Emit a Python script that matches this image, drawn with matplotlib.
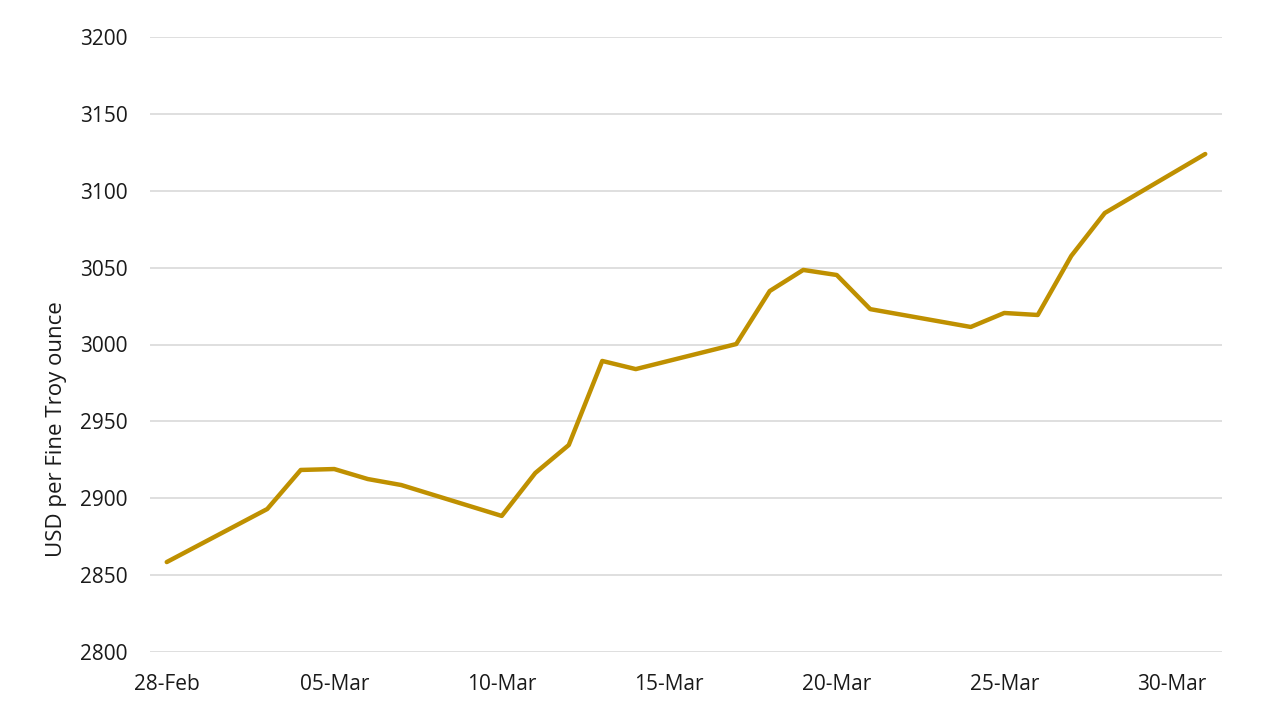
import matplotlib
matplotlib.use("Agg")
import matplotlib.pyplot as plt
import matplotlib.dates as mdates
import numpy as np
import datetime as dt

dates = ["2025-02-28", "2025-03-03", "2025-03-04", "2025-03-05", "2025-03-06", "2025-03-07",
         "2025-03-10", "2025-03-11", "2025-03-12", "2025-03-13", "2025-03-14",
         "2025-03-17", "2025-03-18", "2025-03-19", "2025-03-20", "2025-03-21",
         "2025-03-24", "2025-03-25", "2025-03-26", "2025-03-27", "2025-03-28",
         "2025-03-31"]
prices = [2858.5, 2893, 2918.4, 2919, 2912.5, 2908.6,
          2888.5, 2916.4, 2934.6, 2989.3, 2984,
          3000.3, 3034.8, 3048.5, 3045.2, 3023,
          3011.4, 3020.5, 3019.2, 3057.6, 3085.5,
          3123.9]
tick_dates = ["2025-02-28", "2025-03-05", "2025-03-10", "2025-03-15", "2025-03-20",
              "2025-03-25", "2025-03-30"]
y_ticks = [2800, 2850, 2900, 2950, 3000, 3050, 3100, 3150, 3200]

plt.rcParams['font.family'] = ['Open Sans', 'DejaVu Sans']

x = [dt.datetime.strptime(d, "%Y-%m-%d") for d in dates]
xt = [dt.datetime.strptime(d, "%Y-%m-%d") for d in tick_dates]

fig = plt.figure(figsize=(12.8, 7.2), dpi=100)
ax = fig.add_axes([150/1280, 1-652/720, (1222-150)/1280, (652-37)/720])
ax.plot(x, prices, color="#BF9000", linewidth=3.2, solid_joinstyle="round", solid_capstyle="round", zorder=3)

ax.set_ylim(2800, 3200)
ax.set_yticks(y_ticks)
ax.set_xlim(x[0] - dt.timedelta(days=0.5), x[-1] + dt.timedelta(days=0.5))
ax.set_xticks(xt)
ax.xaxis.set_major_formatter(mdates.DateFormatter("%d-%b"))
ax.grid(axis="y", color="#D9D9D9", linewidth=1.2)
ax.set_axisbelow(True)
for s in ["top", "right", "left", "bottom"]:
    ax.spines[s].set_visible(False)
ax.tick_params(axis="both", length=0, labelsize=15, colors="#404040", labelcolor="#1a1a1a")
ax.tick_params(axis="y", pad=16)
ax.tick_params(axis="x", pad=16)
ax.set_ylabel("USD per Fine Troy ounce", fontsize=16, color="#1a1a1a")
ax.yaxis.set_label_coords(-0.077, 0.362)

fig.savefig("out.png", dpi=100, facecolor="white")
